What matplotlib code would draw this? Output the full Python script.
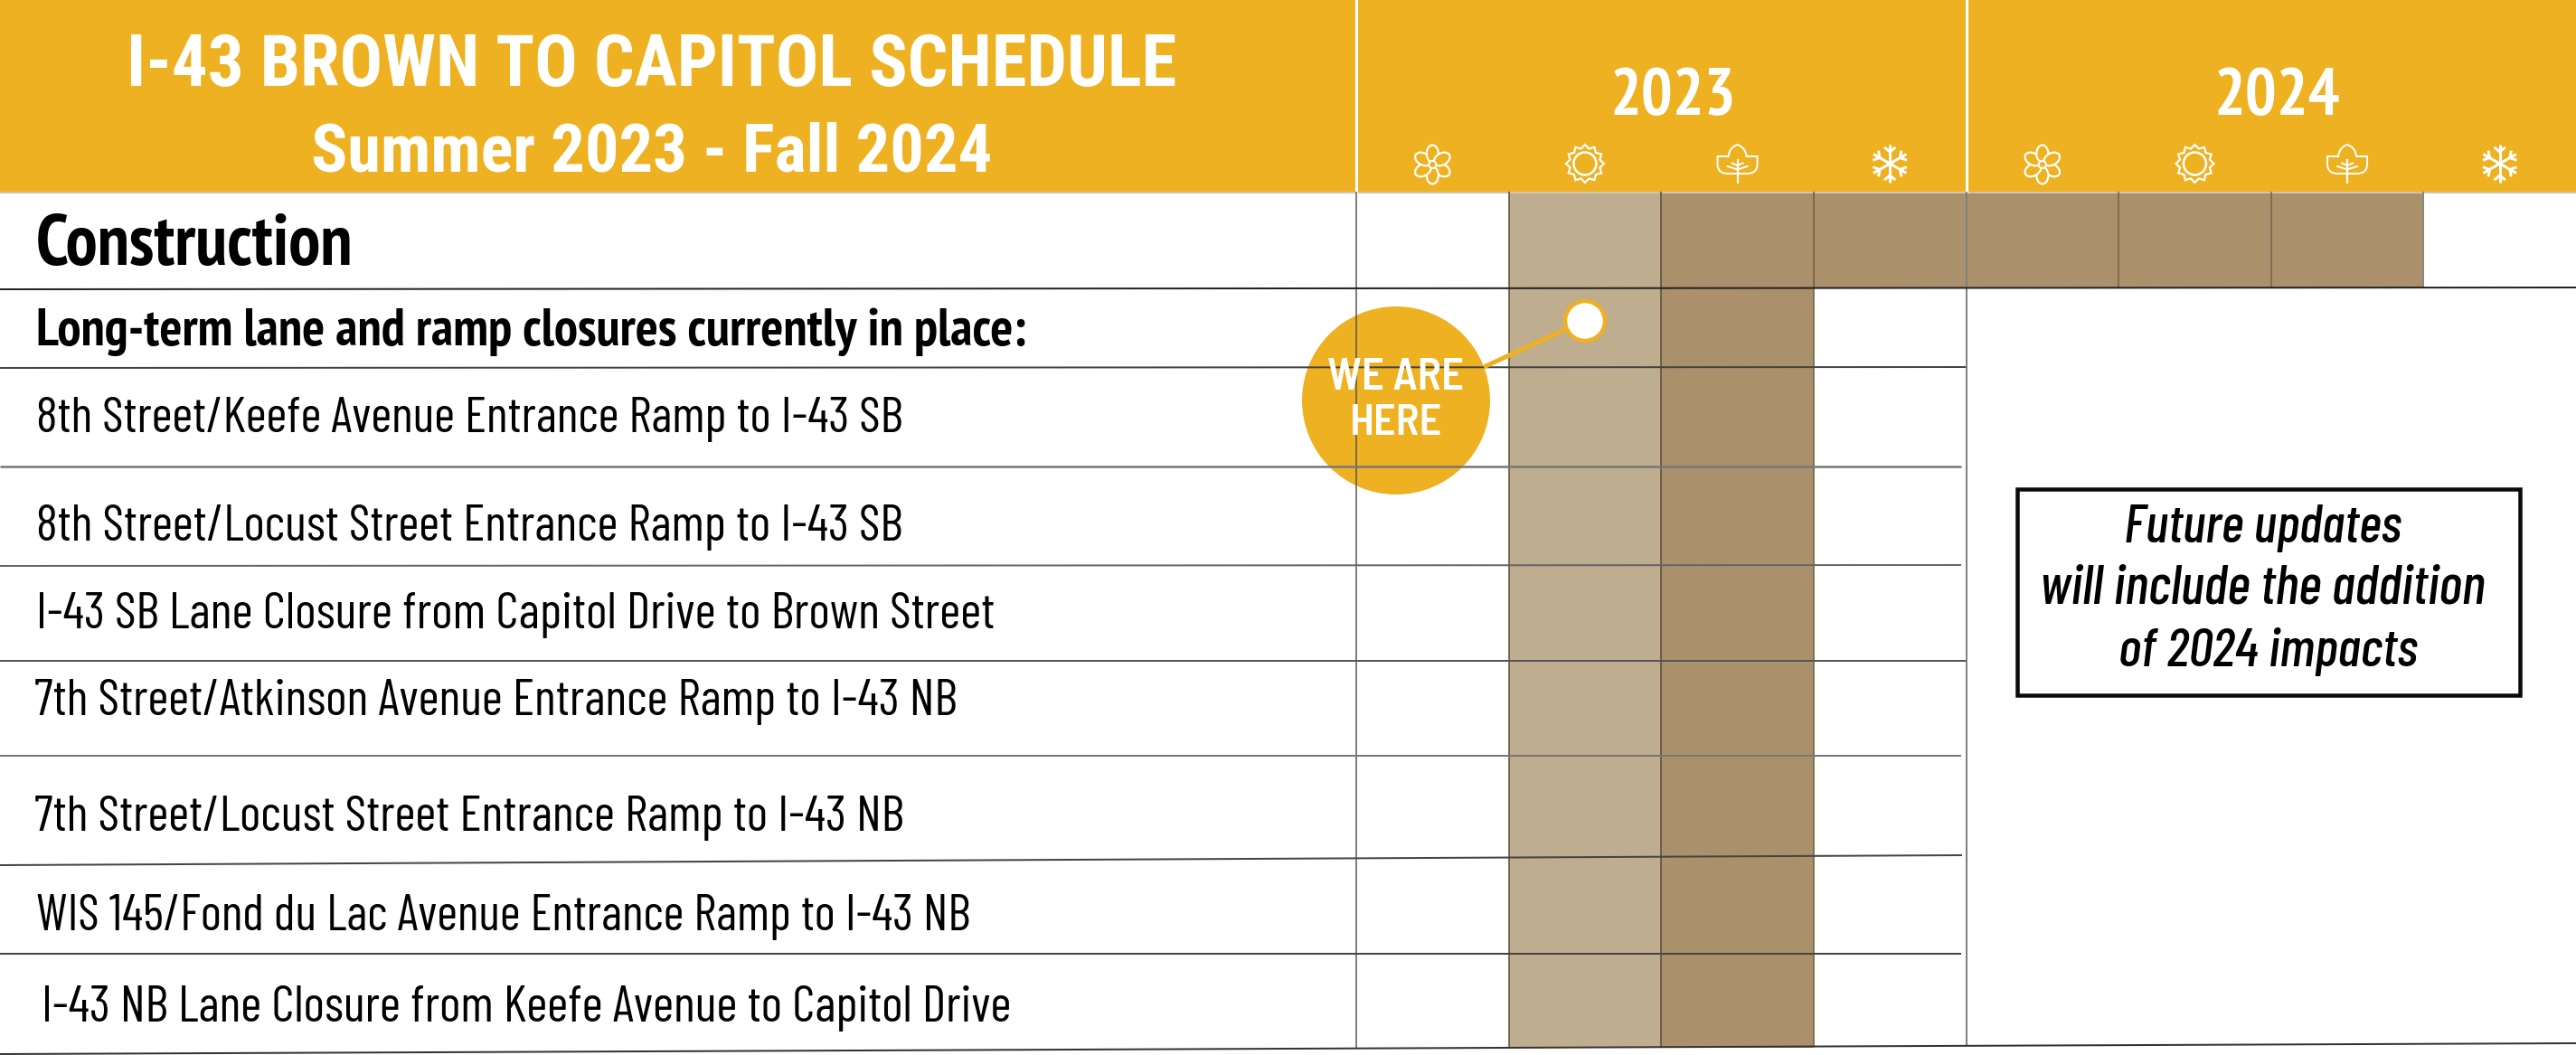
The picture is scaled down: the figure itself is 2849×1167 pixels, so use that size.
#!/usr/bin/env python3
"""I-43 Brown to Capitol schedule table, drawn on pixel-sized axes."""
import numpy as np
import matplotlib
matplotlib.use("Agg")
import matplotlib.pyplot as plt
from matplotlib.patches import Circle, Ellipse, PathPatch, Polygon, Rectangle
from matplotlib.path import Path

W, H = 2849, 1167
GOLD = "#EDB121"
LIGHT = "#BEAD8E"
DARK = "#AA906B"
# condensed faces first, the plain installed ones as a fallback
HEAD_FONT = ["Roboto Condensed", "PT Sans Narrow", "Liberation Sans"]
BOLD_FONT = ["PT Sans Narrow", "Roboto Condensed", "Liberation Sans"]
BODY_FONT = ["Barlow Condensed", "Roboto Condensed", "Liberation Sans"]
BADGE_FONT = ["Barlow Semi Condensed", "Roboto Condensed", "Liberation Sans"]

# data
title = "I-43 BROWN TO CAPITOL SCHEDULE"
subtitle = "Summer 2023 - Fall 2024"
years = ["2023", "2024"]
seasons = ["spring", "summer", "fall", "winter", "spring", "summer", "fall", "winter"]
section = "Construction"
closures_head = "Long-term lane and ramp closures currently in place:"
closures = [
    "8th Street/Keefe Avenue Entrance Ramp to I-43 SB",
    "8th Street/Locust Street Entrance Ramp to I-43 SB",
    "I-43 SB Lane Closure from Capitol Drive to Brown Street",
    "7th Street/Atkinson Avenue Entrance Ramp to I-43 NB",
    "7th Street/Locust Street Entrance Ramp to I-43 NB",
    "WIS 145/Fond du Lac Avenue Entrance Ramp to I-43 NB",
    "I-43 NB Lane Closure from Keefe Avenue to Capitol Drive",
]
# phase per quarter: 0 none, 1 light, 2 dark
construction_phase = [0, 1, 2, 2, 2, 2, 2, 0]
closure_phase = [0, 1, 2, 0]
note_lines = ["Future updates", "will include the addition", "of 2024 impacts"]

# layout, in reference pixels
GRID_X = 1500
QUARTER = (W - GRID_X) / 8
HEAD_BOTTOM = 212
CONSTR_BOTTOM = 319
TABLE_BOTTOM = 1159
YEAR_X = [1851, 2519]
ROW_X = [40, 40, 40, 38, 38, 40, 46]
ROW_WIDTH = [961, 959, 1060, 1022, 962, 1033, 1073]
ROW_BASE = [478, 598, 695, 791, 919, 1029, 1130]
# (x0, y0, x1, y1, colour, width px)
RULES = [
    (0, 320, W, 318, "#222222", 2),
    (0, 407, 2174, 406, "#444444", 2),
    (0, 516, 2169, 516, "#777777", 2.5),
    (0, 626, 2169, 625, "#666666", 2),
    (0, 731, 2174, 731, "#555555", 2),
    (0, 836, 2169, 836, "#777777", 2),
    (0, 957, 2170, 946, "#444444", 2),
    (0, 1055, 2169, 1055, "#444444", 2),
    (0, 1166, W, 1154, "#333333", 2),
]


def px(n):
    return n * 72 / 100


def fit_text(ax, x, y, s, width, family=BODY_FONT, **kw):
    # scale the font so the string spans the wanted pixel width
    t = ax.text(x, y, s, family=family, fontsize=40, **kw)
    r = ax.figure.canvas.get_renderer()
    t.set_fontsize(40 * width / t.get_window_extent(r).width)
    return t


def flower(ax, cx, cy):
    for a in range(30, 360, 60):
        dx, dy = 12 * np.cos(np.radians(a)), 12 * np.sin(np.radians(a))
        ax.add_patch(Ellipse((cx + dx, cy + dy), 19, 13, angle=a, fc=GOLD, ec="white", lw=px(2.2)))
    ax.add_patch(Circle((cx, cy), 4, fc=GOLD, ec="white", lw=px(2)))


def sun(ax, cx, cy):
    ang = np.radians(np.arange(0, 360, 15))
    rad = np.where(np.arange(24) % 2 == 0, 21, 17)
    ax.add_patch(Polygon(np.c_[cx + rad * np.sin(ang), cy + rad * np.cos(ang)],
                         fc=GOLD, ec="white", lw=px(2.2)))
    ax.add_patch(Circle((cx, cy), 12.5, fc=GOLD, ec="white", lw=px(2.5)))


def leaf(ax, cx, top):
    pts = [(0, 0), (-9, 3), (-10, 13), (-22, 13), (-22, 23), (-21, 32), (-11, 32), (0, 32),
           (11, 32), (21, 32), (22, 23), (22, 13), (10, 13), (9, 3), (0, 0)]
    codes = [Path.MOVETO, Path.CURVE3, Path.CURVE3, Path.LINETO, Path.LINETO, Path.CURVE3, Path.CURVE3,
             Path.LINETO, Path.LINETO, Path.CURVE3, Path.CURVE3, Path.LINETO, Path.LINETO,
             Path.CURVE3, Path.CURVE3]
    ax.add_patch(PathPatch(Path([(cx + a, top + b) for a, b in pts], codes), fc="none", ec="white", lw=px(2)))
    ax.plot([cx, cx], [top + 16, top + 43], color="white", lw=px(2.2), solid_capstyle="butt")
    for s in (-1, 1):
        ax.plot([cx + s * 11, cx], [top + 24, top + 27.5], color="white", lw=px(2))
        ax.plot([cx + s * 6, cx], [top + 20.5, top + 23], color="white", lw=px(2))


def snowflake(ax, cx, cy):
    for a in range(30, 360, 60):
        ca, sa = np.cos(np.radians(a)), np.sin(np.radians(a))
        ax.plot([cx, cx + 21 * ca], [cy, cy + 21 * sa], color="white", lw=px(3), solid_capstyle="butt")
        for off in (-50, 50):
            b = np.radians(a + off)
            ax.plot([cx + 13 * ca, cx + 13 * ca + 8 * np.cos(b)],
                    [cy + 13 * sa, cy + 13 * sa + 8 * np.sin(b)],
                    color="white", lw=px(3), solid_capstyle="butt")


fig = plt.figure(figsize=(W / 100, H / 100), dpi=100)

# quarter cells go on their own axes, x in quarters
grid = fig.add_axes([GRID_X / W, 0, 1 - GRID_X / W, 1])
grid.set_xlim(0, 8)
grid.set_ylim(H, 0)
grid.axis("off")
fills = {1: LIGHT, 2: DARK}
for q, p in enumerate(construction_phase):
    if p:
        grid.bar(q, CONSTR_BOTTOM - HEAD_BOTTOM, bottom=HEAD_BOTTOM, width=1, align="edge", color=fills[p], lw=0)
for q, p in enumerate(closure_phase):
    if p:
        grid.bar(q, TABLE_BOTTOM - CONSTR_BOTTOM, bottom=CONSTR_BOTTOM, width=1, align="edge", color=fills[p], lw=0)

ax = fig.add_axes([0, 0, 1, 1])
ax.set_xlim(0, W)
ax.set_ylim(H, 0)
ax.axis("off")
ax.patch.set_alpha(0)

# header band
ax.add_patch(Rectangle((0, 0), W, HEAD_BOTTOM, fc=GOLD, ec="none"))
ax.plot([0, W], [HEAD_BOTTOM + 0.5] * 2, color="#cfc7b0", lw=px(2))
for x in (GRID_X, GRID_X + 4 * QUARTER):
    ax.plot([x, x], [0, HEAD_BOTTOM], color="white", lw=px(3))
fit_text(ax, 721, 95, title, 1160, family=HEAD_FONT, color="white", fontweight="bold", ha="center", va="baseline")
fit_text(ax, 721, 190, subtitle, 752, family=HEAD_FONT, color="white", fontweight="bold", ha="center", va="baseline")
for y, x in zip(years, YEAR_X):
    fit_text(ax, x, 127, y, 140, family=BOLD_FONT, color="white", fontweight="bold", ha="center", va="baseline")
for q, s in enumerate(seasons):
    cx = GRID_X + (q + 0.5) * QUARTER
    if s == "spring":
        flower(ax, cx, 182)
    elif s == "summer":
        sun(ax, cx, 181)
    elif s == "fall":
        leaf(ax, cx, 160)
    else:
        snowflake(ax, cx, 181)

# verticals
for q, top, bot, c, lw in [(0, HEAD_BOTTOM, 1160, "#555555", 1.5), (1, HEAD_BOTTOM, 1159, "#5a4a32", 1.5),
                           (2, HEAD_BOTTOM, 1159, "#5a4a32", 1.5), (3, HEAD_BOTTOM, 1158, "#6b5a40", 1.5),
                           (4, HEAD_BOTTOM, 1157, "#808080", 2), (5, HEAD_BOTTOM, CONSTR_BOTTOM, "#75644a", 1.5),
                           (6, HEAD_BOTTOM, CONSTR_BOTTOM, "#75644a", 1.5), (7, HEAD_BOTTOM, CONSTR_BOTTOM, "#888888", 2)]:
    x = GRID_X + q * QUARTER
    ax.plot([x, x], [top, bot], color=c, lw=px(lw), solid_capstyle="butt")

for x0, y0, x1, y1, c, lw in RULES:
    ax.plot([x0, x1], [y0, y1], color=c, lw=px(lw), solid_capstyle="butt")

# row labels
fit_text(ax, 40, 293, section, 350, family=BOLD_FONT, color="black", fontweight="bold", va="baseline")
fit_text(ax, 40, 382, closures_head, 1095, family=BOLD_FONT, color="black", fontweight="bold", va="baseline")
for s, x, w, y in zip(closures, ROW_X, ROW_WIDTH, ROW_BASE):
    fit_text(ax, x, y, s, w, color="black", va="baseline")

# we are here marker
ax.plot([1641, 1732], [406, 364], color=GOLD, lw=px(5), solid_capstyle="butt")
ax.add_patch(Circle((1753, 355), 22, fc="white", ec=GOLD, lw=px(4.5)))
ax.add_patch(Circle((1544, 443), 104, fc=GOLD, ec="none"))
fit_text(ax, 1544, 431, "WE ARE", 151, family=BADGE_FONT, color="white", fontweight="semibold", ha="center", va="baseline")
fit_text(ax, 1544, 481, "HERE", 102, family=BADGE_FONT, color="white", fontweight="semibold", ha="center", va="baseline")

# note box
ax.add_patch(Rectangle((2231, 541), 556, 228, fc="white", ec="#0a0a0a", lw=px(4.5)))
for s, y, w, x in zip(note_lines, [600, 668, 737], [307, 493, 331], [2502, 2502, 2508]):
    fit_text(ax, x, y, s, w, color="black", style="italic", fontweight="medium", ha="center", va="baseline")

fig.savefig("out.png", dpi=100)
